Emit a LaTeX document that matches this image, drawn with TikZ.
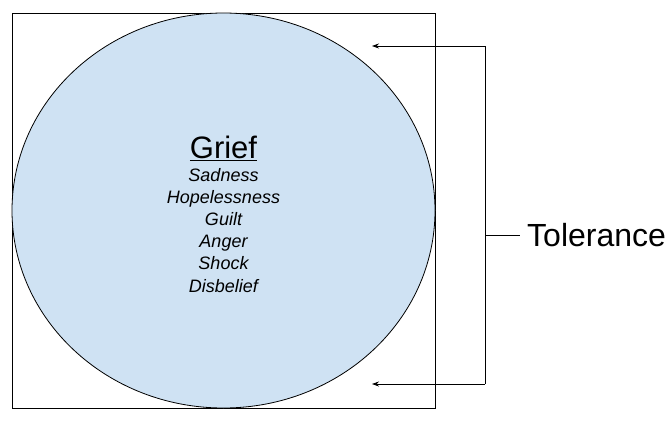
\documentclass[tikz,border=0pt]{standalone}
\usepackage{fontspec}
\setmainfont{Liberation Sans}
\usetikzlibrary{arrows.meta}
\definecolor{griefblue}{HTML}{CFE2F3}
\begin{document}
\begin{tikzpicture}[x=1pt,y=-1pt,
  item/.style={font=\fontsize{18}{21}\selectfont\itshape, inner sep=0pt, anchor=base},
  arr/.style={-{Stealth[length=7pt,width=5pt]}, line width=0.8pt}]
\useasboundingbox (0,0) rectangle (671,423);
\draw[line width=0.8pt] (12,13) rectangle (435,408);
\draw[line width=0.8pt, fill=griefblue] (223.5,210.5) ellipse [x radius=211.5, y radius=197.5];
\node[font=\fontsize{31}{34}\selectfont, inner sep=0pt, anchor=base] (g) at (223.5,158) {\underline{Grief}};
\node[item] (i1) at (223.5,181) {Sadness};
\node[item] (i2) at (223.5,203) {Hopelessness};
\node[item] (i3) at (223.5,225) {Guilt};
\node[item] (i4) at (223.5,247) {Anger};
\node[item] (i5) at (223.5,269) {Shock};
\node[item] (i6) at (223.5,292) {Disbelief};
\coordinate (t) at (485,46);
\coordinate (b) at (485,384);
\coordinate (ta) at (372,46);
\coordinate (ba) at (372,384);
\coordinate (m) at (485,235);
\coordinate (me) at (520,235);
\draw[line width=0.8pt] (t) -- (b);
\draw[arr] (t) -- (ta);
\draw[arr] (b) -- (ba);
\draw[line width=0.8pt] (m) -- (me);
\node[font=\fontsize{32}{36}\selectfont, anchor=west, inner sep=0pt] (tol) at (527,235) {Tolerance};
\end{tikzpicture}
\end{document}
